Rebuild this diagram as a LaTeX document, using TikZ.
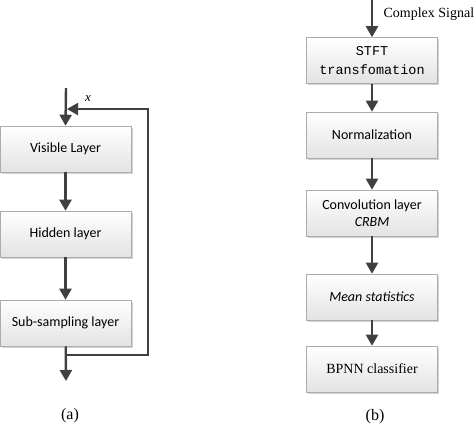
\documentclass[tikz,border=0pt]{standalone}
\usepackage{fontspec}
\setmainfont{Liberation Serif}
\setmonofont{Liberation Mono}
\newfontfamily\calibrifont{Carlito}
\definecolor{arrowgray}{RGB}{64,64,64}
\usetikzlibrary{arrows.meta,shadows}

\begin{document}
\begin{tikzpicture}[x=1pt,y=-1pt,
  >={Triangle[width=12pt,length=11pt]},
  layer/.style={draw=gray!65,line width=.6pt,top color=white,bottom color=gray!22,
    minimum width=131pt,minimum height=46pt,inner sep=0pt,align=center,
    font=\calibrifont\fontsize{14}{17}\selectfont,
    drop shadow={shadow xshift=1.6pt,shadow yshift=-1.6pt,opacity=.35}},
  flow/.style={->,draw=arrowgray,line width=2.4pt},
  loopline/.style={->,draw=arrowgray,line width=1.8pt}]
  \useasboundingbox (0,0) rectangle (474,424);
  % (a) layers of one CRBM stage
  \node[layer] (vis) at (65.5,149) {Visible Layer};
  \node[layer] (hid) at (65.5,234) {Hidden layer};
  \node[layer] (sub) at (65.5,323) {Sub-sampling layer};
  \coordinate (ain) at (66,88);
  \coordinate (aout) at (66,381);
  \coordinate (fb) at (66,355);
  \coordinate (fbr) at (148,355);
  \coordinate (fbt) at (148,109);
  \coordinate (fbend) at (67,109);
  \draw[flow] (ain) -- (vis.north);
  \draw[flow] (vis) -- (hid);
  \draw[flow] (hid) -- (sub);
  \draw[flow] (sub) -- (aout);
  \draw[loopline] (fb) -- (fbr) -- (fbt) -- (fbend);
  \node[font=\fontsize{13}{13}\selectfont] (xlab) at (88,99) {\textit{x}};
  \node[font=\fontsize{16}{16}\selectfont] (capa) at (70,416) {(a)};
  % (b) processing chain
  \node[layer,font=\ttfamily\fontsize{13.5}{19}\selectfont] (stft) at (372,60.5) {STFT\\transfomation};
  \node[layer] (norm) at (372,135) {Normalization};
  \node[layer] (conv) at (372,213) {Convolution layer\\\textit{CRBM}};
  \node[layer] (mean) at (372,297) {\textit{Mean statistics}};
  \node[layer,font=\fontsize{14}{17}\selectfont] (bpnn) at (372,369) {BPNN classifier};
  \coordinate (bin) at (372,0);
  \draw[flow] (bin) -- (stft.north);
  \draw[flow] (stft) -- (norm);
  \draw[flow] (norm) -- (conv);
  \draw[flow] (conv) -- (mean);
  \draw[flow] (mean) -- (bpnn);
  \node[anchor=west,font=\fontsize{14}{14}\selectfont] (sig) at (380,14) {Complex Signal};
  \node[font=\fontsize{16}{16}\selectfont] (capb) at (375,417) {(b)};
\end{tikzpicture}
\end{document}
